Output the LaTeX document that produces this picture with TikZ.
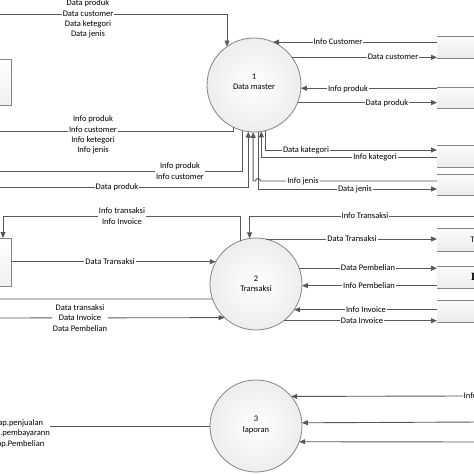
\documentclass[tikz,border=0pt]{standalone}
\usepackage{fontspec}
\setmainfont{Carlito}
\newfontfamily\serifb{Liberation Serif}
\usetikzlibrary{arrows.meta}
\definecolor{ln}{HTML}{585858}
\definecolor{edge}{HTML}{858585}
\tikzset{
  flow/.style={draw=ln, line width=0.9pt},
  tip/.style={-{Triangle[length=6pt,width=5pt]}},
  proc/.style={circle, draw=edge, line width=0.8pt, minimum size=94pt, inner sep=0pt, outer sep=0pt, inner color=white, outer color=gray!14},
  store/.style={rectangle, inner sep=0pt, outer sep=0pt, minimum width=60pt, minimum height=22pt, anchor=north west, top color=gray!3, bottom color=gray!15},
  sline/.style={draw=edge, line width=0.9pt},
  ent/.style={rectangle, draw=edge, line width=0.9pt, inner sep=0pt, outer sep=0pt, minimum width=31pt, top color=white, bottom color=gray!12, anchor=north west},
  txt/.style={font=\fontsize{8.5}{10.3}\selectfont, align=center, inner sep=1pt},
  lbl/.style={txt, fill=white}
}
\begin{document}
\begin{tikzpicture}[x=1pt,y=-1pt]
\fill[white] (0,0) rectangle (474,474);
\useasboundingbox (0,0) rectangle (474,474);

% processes
\node[proc] (c1) at (254,85) {};
\node[proc, minimum size=92pt] (c2) at (256,284) {};
\node[proc, minimum size=92pt] (c3) at (256,426) {};
\node[txt] (t1) at (254,82) {1\\Data master};
\node[txt] (t2) at (256,284) {2\\Transaksi};
\node[txt] (t3) at (256,425) {3\\laporan};

% external entities
\node[ent, minimum height=46pt] (e1) at (-20,59) {};
\node[ent, minimum height=48pt] (e2) at (-20,238) {};

% data stores
\node[store] (s1) at (437,36) {};
\node[store, minimum height=21pt] (s2) at (437,87) {};
\node[store] (s3) at (437,145) {};
\node[store, minimum height=21pt] (s4) at (437,174) {};
\node[store, minimum height=23pt] (s5) at (437,228) {};
\node[store] (s6) at (437,266) {};
\node[store] (s7) at (437,300) {};
\foreach \s in {s1,s2,s3,s4,s5,s6,s7}{
  \draw[sline] (\s.north west) -- (\s.north east);
  \draw[sline] (\s.south west) -- (\s.south east);
}
\node[txt, anchor=west, inner sep=0pt] (s5t) at (470.5,240) {T};
\node[anchor=west, inner sep=0pt, font=\serifb\bfseries\fontsize{11}{11}\selectfont] (s6t) at (471,277) {D};

% free ends
\coordinate (la) at (-5,14);
\coordinate (lb) at (-5,131);
\coordinate (lc) at (-5,171);
\coordinate (ld) at (-5,187);
\coordinate (le) at (3,216);
\coordinate (lf) at (-5,299);
\coordinate (lg) at (-5,318);
\coordinate (lh) at (50,426);
\coordinate (ra) at (480,216);
\coordinate (rb) at (463,396);
\coordinate (rc) at (480,422);
\coordinate (rd) at (480,442);

% ---- process 1 ----
\draw[flow,tip] (la) -| (c1.125.07);
\draw[flow] (c1.-116.54) |- (lb);
\draw[flow] (c1.-104.79) |- (lc);
\draw[flow,tip] (ld) -| (c1.-97.33);
\draw[flow,tip] (s1.west |- c1.66.19) -- (c1.66.19);
\draw[flow,tip] (c1.36.56) -- (c1.36.56 -| s1.west);
\draw[flow,tip] (s2.west |- c1.-4.88) -- (c1.-4.88);
\draw[flow,tip] (c1.-22.52) -- (c1.-22.52 -| s2.west);
\draw[flow,tip] (c1.-76.46) |- (s3.west |- 0,150);
\draw[flow,tip] (s3.west |- 0,157) -| (c1.-81.43);
\draw[flow,tip] (c1.-85.12) |- (s4.west |- 0,189);
\draw[flow,tip] (s4.west |- 0,181) -- (260.5,181) arc[start angle=0,end angle=180,radius=2.5pt] -| (c1.-91.22);

\node[lbl] (l1) at (88,19) {Data produk\\Data customer\\Data ketegori\\Data jenis};
\node[lbl] (l2) at (93,135) {Info produk\\Info customer\\Info ketegori\\Info jenis};
\node[lbl] (l3) at (180,171) {Info produk\\Info customer};
\node[lbl] (l4) at (117,187) {Data produk};
\node[lbl] (l5) at (338,42) {Info Customer};
\node[lbl] (l6) at (393,57) {Data customer};
\node[lbl] (l7) at (348,89) {Info produk};
\node[lbl] (l8) at (387,103) {Data produk};
\node[lbl] (l9) at (306,150) {Data kategori};
\node[lbl] (l10) at (375,157) {Info kategori};
\node[lbl] (l11) at (303,181) {Info jenis};
\node[lbl] (l12) at (355,189) {Data jenis};

% ---- process 2 ----
\draw[flow,tip] (c2.110.35) |- (le) -- (le |- e2.north);
\draw[flow,tip] (e2.east |- c2.151.43) -- (c2.151.43);
\draw[flow] (c2.199.03) -- (lf);
\draw[flow,tip] (lg) -- (c2.227.66);
\draw[flow,tip] (ra) -| (c2.98.75);
\draw[flow,tip] (c2.78.0) -- (c2.78.0 -| s5.west);
\draw[flow,tip] (c2.20.35) -- (c2.20.35 -| s6.west);
\draw[flow,tip] (s6.west |- c2.-2.49) -- (c2.-2.49);
\draw[flow,tip] (s7.west |- c2.-34.42) -- (c2.-34.42);
\draw[flow,tip] (c2.-53.55) -- (c2.-53.55 -| s7.west);

\node[lbl] (m1) at (122,216) {Info transaksi\\Info Invoice};
\node[lbl] (m2) at (110,262) {Data Transaksi};
\node[lbl] (m3) at (80,318) {Data transaksi\\Data Invoice\\Data Pembelian};
\node[lbl] (m4) at (365,216) {Info Transaksi};
\node[lbl] (m5) at (352,239) {Data Transaksi};
\node[lbl] (m6) at (368,268) {Data Pembelian};
\node[lbl] (m7) at (369,286) {Info Pembelian};
\node[lbl] (m8) at (366,310) {Info Invoice};
\node[lbl] (m9) at (362,321) {Data Invoice};

% ---- process 3 ----
\draw[flow,tip] (rb) -- (c3.40.70);
\draw[flow,tip] (rc) -- (c3.4.99);
\draw[flow,tip] (rd) -- (c3.-20.35);
\draw[flow] (c3.180) -- (lh);
\node[txt, anchor=west, inner sep=0.5pt] (n1) at (rb) {Info};
\node[txt] (n2) at (19,433.5) {Lap.penjualan\\Lap.pembayarann\\Lap.Pembelian};
\end{tikzpicture}
\end{document}
